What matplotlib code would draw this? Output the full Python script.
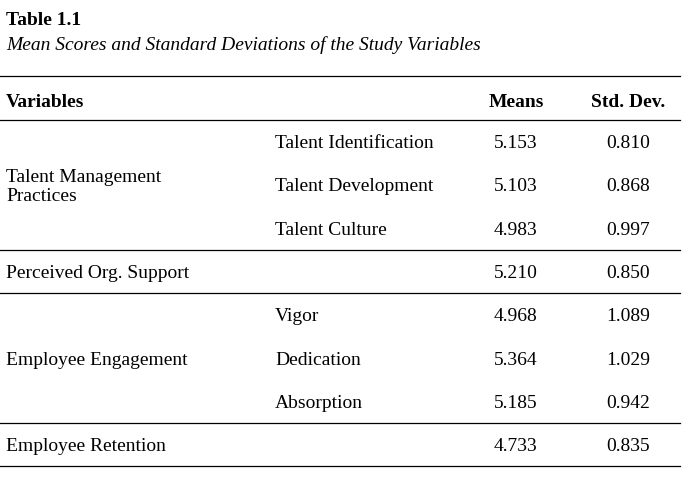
import matplotlib.pyplot as plt

plt.rcParams['font.family'] = ['Liberation Serif', 'DejaVu Serif']

title = "Table 1.1"
subtitle = "Mean Scores and Standard Deviations of the Study Variables"
headers = ["Variables", "Means", "Std. Dev."]

groups = ["Talent Management\nPractices", "Perceived Org. Support",
          "Employee Engagement", "Employee Retention"]
sub_items = [["Talent Identification", "Talent Development", "Talent Culture"],
             [""],
             ["Vigor", "Dedication", "Absorption"],
             [""]]
means = [[5.153, 5.103, 4.983], [5.210], [4.968, 5.364, 5.185], [4.733]]
stds = [[0.810, 0.868, 0.997], [0.850], [1.089, 1.029, 0.942], [0.835]]

fig = plt.figure(figsize=(6.95, 4.78), dpi=100)
ax = fig.add_axes([0, 0, 1, 1])
ax.set_xlim(0, 695)
ax.set_ylim(478, 0)
ax.axis('off')

fs = 14
dy = 2
ax.text(6, 18 + dy, title, fontsize=fs, fontweight='bold', va='center')
ax.text(6, 43 + dy, subtitle, fontsize=fs, style='italic', va='center')

x0, x1 = 0, 680
ax.plot([x0, x1], [76, 76], color='black', lw=0.9)
ax.text(6, 100 + dy, headers[0], fontsize=fs, fontweight='bold', va='center')
ax.text(516, 100 + dy, headers[1], fontsize=fs, fontweight='bold', va='center', ha='center')
ax.text(628, 100 + dy, headers[2], fontsize=fs, fontweight='bold', va='center', ha='center')

row_h = 43.3
y = 120
ax.plot([x0, x1], [y, y], color='black', lw=0.9)
for g, subs, ms, ss in zip(groups, sub_items, means, stds):
    top = y
    for s, m, sd in zip(subs, ms, ss):
        yc = y + row_h / 2 + dy
        if s:
            ax.text(275, yc, s, fontsize=fs, va='center')
        ax.text(516, yc, f"{m:.3f}", fontsize=fs, va='center', ha='center')
        ax.text(628, yc, f"{sd:.3f}", fontsize=fs, va='center', ha='center')
        y += row_h
    ax.text(6, (top + y) / 2 + dy, g, fontsize=fs, va='center', linespacing=1.1)
    ax.plot([x0, x1], [y, y], color='black', lw=0.9)

fig.savefig('out.png', dpi=100)
